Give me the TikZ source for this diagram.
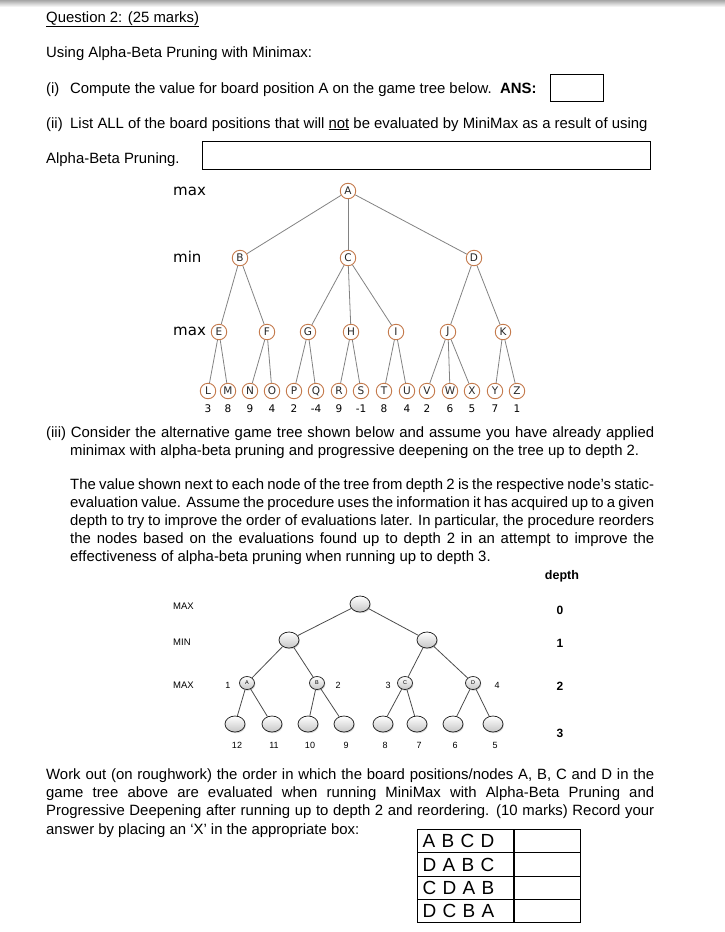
\documentclass[tikz,border=0pt]{standalone}
\usepackage{fontspec}
\setmainfont{Liberation Sans}
\newfontfamily\dejavu{DejaVu Sans}
\usetikzlibrary{shadows,shapes.geometric}
\definecolor{nodebrown}{RGB}{196,122,76}
\definecolor{edgegray}{RGB}{130,130,130}
\tikzset{
  body/.style={anchor=base west, inner sep=0pt, font=\fontsize{14.9}{18}\selectfont},
  tnode/.style={circle, draw=nodebrown, line width=0.9pt, minimum size=15.5pt, inner sep=0pt, fill=white, font=\dejavu\fontsize{10.5}{10.5}\selectfont, text=black!85},
  tedge/.style={draw=edgegray, line width=0.8pt},
  tlabel/.style={anchor=west, inner sep=0pt, font=\dejavu\fontsize{15}{15}\selectfont},
  tval/.style={inner sep=0pt, font=\dejavu\fontsize{10.5}{11}\selectfont},
  enode/.style={ellipse, draw=black!85, line width=0.75pt, minimum width=20pt, minimum height=16pt, inner sep=0pt, top color=white, bottom color=black!22, drop shadow={opacity=0.35, shadow xshift=0.8pt, shadow yshift=-1.2pt}},
  snode/.style={enode, minimum width=15pt, minimum height=13pt, font=\fontsize{5.5}{6}\selectfont},
  eedge/.style={draw=black!70, line width=0.8pt},
  slabel/.style={anchor=west, inner sep=0pt, font=\fontsize{9.5}{10}\selectfont},
  sval/.style={inner sep=0pt, font=\fontsize{9}{10}\selectfont},
  dval/.style={inner sep=0pt, font=\bfseries\fontsize{12}{12}\selectfont},
  ansbox/.style={draw, line width=0.8pt, anchor=north west, inner sep=0pt},
  cellL/.style={draw, line width=1pt, anchor=north west, minimum height=23.3pt, text width=87pt, inner xsep=5pt, inner ysep=0pt, align=left, font=\fontsize{19}{19}\selectfont},
  cellR/.style={draw, line width=1pt, anchor=north west, minimum height=23.3pt, minimum width=67pt, inner sep=0pt},
}
\begin{document}
\begin{tikzpicture}[x=1pt,y=-1pt]
\useasboundingbox (0,0) rectangle (725,932);
\shade[top color=black!35, bottom color=white] (0,0) rectangle (725,7);
% header text
\node[body] (q2) at (46,22) {\underline{Question 2: (25 marks)}};
\node[body] (using) at (46,57) {Using Alpha-Beta Pruning with Minimax:};
\node[body] (i) at (46,93) {(i)};
\node[body] (itext) at (70,93) {Compute the value for board position A on the game tree below.\ \ \textbf{ANS:}};
\node[ansbox, minimum width=53pt, minimum height=27pt] (box1) at (550,74) {};
\node[body] (ii) at (46,128) {(ii)};
\node[body] (iitext) at (70,128) {List ALL of the board positions that will \underline{not} be evaluated by MiniMax as a result of using};
\node[body] (ab) at (46,163) {Alpha-Beta Pruning.};
\node[ansbox, minimum width=448pt, minimum height=28pt] (box2) at (202,141) {};
% tree 1 labels
\node[tlabel] (lmax1) at (173,191) {max};
\node[tlabel] (lmin) at (173,257) {min};
\node[tlabel] (lmax2) at (173,331) {max};
% tree 1 nodes
\node[tnode] (A) at (348,191) {A};
\node[tnode] (B) at (240,258) {B};
\node[tnode] (C) at (348,258) {C};
\node[tnode] (D) at (474,258) {D};
\node[tnode] (E) at (219,332) {E};
\node[tnode] (F) at (267,332) {F};
\node[tnode] (G) at (308,332) {G};
\node[tnode] (H) at (351,332) {H};
\node[tnode] (I) at (396,332) {I};
\node[tnode] (J) at (448,332) {J};
\node[tnode] (K) at (503,332) {K};
\foreach \n/\x/\v in {L/208/3,M/228/8,N/250/9,O/272/4,P/294/2,Q/316/-4,R/339/9,S/361/-1,T/384/8,U/407/4,V/427/2,W/450/6,X/472/5,Y/495/7,Z/517/1}{
  \node[tnode] (\n) at (\x,391) {\n};
  \node[tval] (v\n) at (\x,409) {\v};
}
\foreach \a/\b in {A/B,A/C,A/D,B/E,B/F,C/G,C/H,C/I,D/J,D/K,E/L,E/M,F/N,F/O,G/P,G/Q,H/R,H/S,I/T,I/U,J/V,J/W,J/X,K/Y,K/Z}{
  \draw[tedge] (\a) -- (\b);
}
% paragraph iii
\node[body] (p1) at (46,437) {\makebox[608pt][s]{(iii) Consider the alternative game tree shown below and assume you have already applied}};
\node[body] (p2) at (70,455) {minimax with alpha-beta pruning and progressive deepening on the tree up to depth 2.};
\node[body] (p3) at (70,489) {\makebox[584pt][s]{The value shown next to each node of the tree from depth 2 is the respective node's static-}};
\node[body] (p4) at (70,507) {\makebox[584pt][s]{evaluation value. Assume the procedure uses the information it has acquired up to a given}};
\node[body] (p5) at (70,525) {\makebox[584pt][s]{depth to try to improve the order of evaluations later. In particular, the procedure reorders}};
\node[body] (p6) at (70,543) {\makebox[584pt][s]{the nodes based on the evaluations found up to depth 2 in an attempt to improve the}};
\node[body] (p7) at (70,561) {effectiveness of alpha-beta pruning when running up to depth 3.};
% tree 2
\node[inner sep=0pt, font=\bfseries\fontsize{12.5}{13}\selectfont] (depth) at (562,576) {depth};
\node[dval] (d0) at (560,610) {0};
\node[dval] (d1) at (560,643) {1};
\node[dval] (d2) at (560,686) {2};
\node[dval] (d3) at (560,733) {3};
\node[slabel] (smax1) at (173,606) {MAX};
\node[slabel] (smin) at (173,642) {MIN};
\node[slabel] (smax2) at (173,685) {MAX};
\node[enode] (root) at (360,604) {};
\node[enode] (m1) at (289,640) {};
\node[enode] (m2) at (427,640) {};
\node[snode] (nA) at (247,683) {A};
\node[snode] (nB) at (317,683) {B};
\node[snode] (nC) at (405,683) {C};
\node[snode] (nD) at (473,683) {D};
\node[sval] (vA) at (228,685) {1};
\node[sval] (vB) at (338,685) {2};
\node[sval] (vC) at (388,685) {3};
\node[sval] (vD) at (497,685) {4};
\foreach \n/\x/\v in {l1/235/12,l2/272/11,l3/308/10,l4/344/9,l5/383/8,l6/417/7,l7/453/6,l8/493/5}{
  \node[enode] (\n) at (\x,724) {};
  \node[sval] (v\n) at (\x+2,745) {\v};
}
\foreach \a/\b in {root/m1,root/m2,m1/nA,m1/nB,m2/nC,m2/nD,nA/l1,nA/l2,nB/l3,nB/l4,nC/l5,nC/l6,nD/l7,nD/l8}{
  \draw[eedge] (\a) -- (\b);
}
% bottom paragraph
\node[body] (w1) at (46,779) {\makebox[608pt][s]{Work out (on roughwork) the order in which the board positions/nodes A, B, C and D in the}};
\node[body] (w2) at (46,797) {\makebox[608pt][s]{game tree above are evaluated when running MiniMax with Alpha-Beta Pruning and}};
\node[body] (w3) at (46,815) {\makebox[608pt][s]{Progressive Deepening after running up to depth 2 and reordering. (10 marks) Record your}};
\node[body] (w4) at (46,834) {answer by placing an ‘X’ in the appropriate box:};
% table
\node[cellL] (t1) at (417,829) {A B C D};
\node[cellR] (u1) at (513,829) {};
\node[cellL] (t2) at (417,852.3) {D A B C};
\node[cellR] (u2) at (513,852.3) {};
\node[cellL] (t3) at (417,875.6) {C D A B};
\node[cellR] (u3) at (513,875.6) {};
\node[cellL] (t4) at (417,898.9) {D C B A};
\node[cellR] (u4) at (513,898.9) {};
\end{tikzpicture}
\end{document}
